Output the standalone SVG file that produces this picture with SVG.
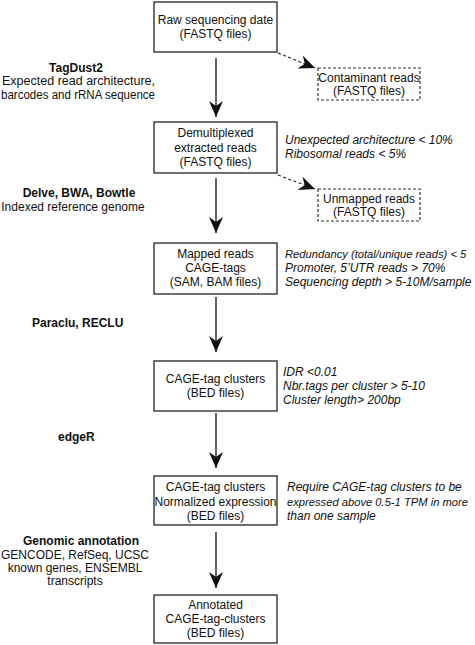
<svg xmlns="http://www.w3.org/2000/svg" width="475" height="645" viewBox="0 0 475 645">
<defs>
<style>
text{font-family:"Liberation Sans",Arial,sans-serif;font-size:12px;fill:#111}
.c{text-anchor:middle}
.b{font-weight:bold}
.i{font-style:italic}
.s{font-size:11.2px}
.box{fill:#fff;stroke:#222;stroke-width:1.3}
.dbox{fill:#fff;stroke:#333;stroke-width:1.2;stroke-dasharray:3,2}
.ln{fill:none;stroke:#111;stroke-width:1.3}
.dl{fill:none;stroke:#222;stroke-width:1.1;stroke-dasharray:3,2.5}
</style>
<marker id="ah" viewBox="-17 -8 18 16" refX="0" refY="0" markerWidth="18" markerHeight="16" markerUnits="userSpaceOnUse" orient="auto">
<path d="M0,0 L-16,-7 L-11,0 L-16,7 z" fill="#111"/>
</marker>
</defs>
<rect width="475" height="645" fill="#fff"/>
<g id="connectors">
<line class="ln" x1="216" y1="58" x2="216" y2="117" marker-end="url(#ah)"/>
<line class="ln" x1="216" y1="178" x2="216" y2="233" marker-end="url(#ah)"/>
<line class="ln" x1="216" y1="297" x2="216" y2="352" marker-end="url(#ah)"/>
<line class="ln" x1="216" y1="413" x2="216" y2="468" marker-end="url(#ah)"/>
<line class="ln" x1="216" y1="532" x2="216" y2="588" marker-end="url(#ah)"/>
<line class="dl" x1="278" y1="53" x2="315" y2="68" marker-end="url(#ah)"/>
<line class="dl" x1="278" y1="175" x2="315" y2="189" marker-end="url(#ah)"/>
</g>
<g id="raw">
<rect class="box" x="154" y="2" width="123" height="50"/>
<text class="c" x="215.5" y="24">Raw sequencing date</text>
<text class="c" x="215.5" y="38">(FASTQ files)</text>
</g>
<g id="contaminant">
<rect class="dbox" x="318" y="68" width="102" height="32"/>
<text class="c" x="369" y="82">Contaminant reads</text>
<text class="c" x="369" y="95">(FASTQ files)</text>
</g>
<g id="tagdust">
<text class="c b" x="76" y="72">TagDust2</text>
<text x="2" y="85" textLength="153" lengthAdjust="spacingAndGlyphs">Expected read architecture,</text>
<text x="1" y="99" textLength="154" lengthAdjust="spacingAndGlyphs">barcodes and rRNA sequence</text>
</g>
<g id="demux">
<rect class="box" x="154" y="122" width="123" height="51"/>
<text class="c" x="215.5" y="137">Demultiplexed</text>
<text class="c" x="215.5" y="152">extracted reads</text>
<text class="c" x="215.5" y="166">(FASTQ files)</text>
</g>
<g id="demux-crit">
<text class="i" x="285" y="144">Unexpected architecture &lt; 10%</text>
<text class="i" x="285" y="158">Ribosomal reads &lt; 5%</text>
</g>
<g id="unmapped">
<rect class="dbox" x="318" y="189" width="102" height="32"/>
<text class="c" x="369" y="203">Unmapped reads</text>
<text class="c" x="369" y="216">(FASTQ files)</text>
</g>
<g id="delve">
<text class="c b" x="79" y="197">Delve, BWA, Bowtle</text>
<text class="c" x="73" y="211">Indexed reference genome</text>
</g>
<g id="mapped">
<rect class="box" x="154" y="243" width="123" height="51"/>
<text class="c" x="215.5" y="258">Mapped reads</text>
<text class="c" x="215.5" y="272">CAGE-tags</text>
<text class="c" x="215.5" y="286">(SAM, BAM files)</text>
</g>
<g id="mapped-crit">
<text class="i s" x="285" y="258">Redundancy (total/unique reads) &lt; 5</text>
<text class="i" x="285" y="272">Promoter, 5’UTR reads &gt; 70%</text>
<text class="i" x="285" y="286">Sequencing depth &gt; 5-10M/sample</text>
</g>
<g id="paraclu">
<text class="b" x="32" y="327">Paraclu, RECLU</text>
</g>
<g id="clusters">
<rect class="box" x="154" y="361" width="123" height="50"/>
<text class="c" x="215.5" y="383">CAGE-tag clusters</text>
<text class="c" x="215.5" y="397">(BED files)</text>
</g>
<g id="clusters-crit">
<text class="i" x="283" y="376">IDR &lt;0.01</text>
<text class="i" x="283" y="390">Nbr.tags per cluster &gt; 5-10</text>
<text class="i" x="283" y="404">Cluster length&gt; 200bp</text>
</g>
<g id="edger">
<text class="b" x="58" y="441">edgeR</text>
</g>
<g id="normalized">
<rect class="box" x="154" y="476" width="123" height="49"/>
<text class="c" x="215.5" y="491">CAGE-tag clusters</text>
<text class="c" x="215.5" y="506">Normalized expression</text>
<text class="c" x="215.5" y="520">(BED files)</text>
</g>
<g id="normalized-crit">
<text class="i" x="287" y="491">Require CAGE-tag clusters to be</text>
<text class="i s" x="287" y="506">expressed above 0.5-1 TPM in more</text>
<text class="i" x="287" y="520">than one sample</text>
</g>
<g id="genomic">
<text class="c b" x="81" y="545">Genomic annotation</text>
<text class="c" x="75" y="559">GENCODE, RefSeq, UCSC</text>
<text class="c" x="75" y="572">known genes, ENSEMBL</text>
<text class="c" x="75" y="585">transcripts</text>
</g>
<g id="annotated">
<rect class="box" x="154" y="595" width="123" height="48"/>
<text class="c" x="215.5" y="609">Annotated</text>
<text class="c" x="215.5" y="623">CAGE-tag-clusters</text>
<text class="c" x="215.5" y="637">(BED files)</text>
</g>
</svg>
